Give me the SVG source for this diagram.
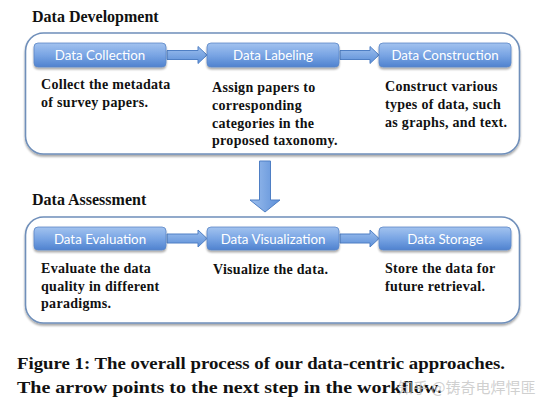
<svg xmlns="http://www.w3.org/2000/svg" width="546" height="412" viewBox="0 0 546 412">
<defs>
<linearGradient id="bg" x1="0" y1="0" x2="0" y2="1">
<stop offset="0" stop-color="#a3c3ef"/>
<stop offset="0.5" stop-color="#79a5e4"/>
<stop offset="1" stop-color="#4f82cf"/>
</linearGradient>
<linearGradient id="ag" x1="0" y1="0" x2="0" y2="1">
<stop offset="0" stop-color="#9dbfee"/>
<stop offset="1" stop-color="#5c8fd8"/>
</linearGradient>
<linearGradient id="agv" x1="0" y1="0" x2="1" y2="0">
<stop offset="0" stop-color="#9dbfee"/>
<stop offset="1" stop-color="#5c8fd8"/>
</linearGradient>
<filter id="sh" x="-10%" y="-10%" width="120%" height="130%">
<feGaussianBlur in="SourceAlpha" stdDeviation="1.2"/>
<feOffset dx="0" dy="1.5" result="b"/>
<feComponentTransfer><feFuncA type="linear" slope="0.35"/></feComponentTransfer>
<feMerge><feMergeNode/><feMergeNode in="SourceGraphic"/></feMerge>
</filter>
</defs>
<style>
.title{font-family:"Liberation Serif",serif;font-weight:bold;font-size:16px;fill:#111}
.body{font-family:"Liberation Serif",serif;font-weight:bold;font-size:14px;fill:#111;letter-spacing:0.3px}
.lbl{font-family:Lato,"Open Sans",sans-serif;font-size:13.3px;fill:#fff;text-anchor:middle}
.outer{fill:#fff;stroke:#6f8fba;stroke-width:1.6}
.step{fill:url(#bg);stroke:#5b86c6;stroke-width:0.8}
.arr{fill:url(#ag);stroke:#4f7fc4;stroke-width:1}
.cap{font-family:"Liberation Serif",serif;font-weight:bold;font-size:17px;fill:#111}
.wm{font-family:"Noto Sans CJK SC",sans-serif;font-size:15px;fill:#c4c4c4}
</style>
<rect width="546" height="412" fill="#fff"/>

<text class="title" x="32" y="22">Data Development</text>
<g id="dev-panel">
<rect class="outer" x="25.5" y="33" width="494" height="121" rx="18" filter="url(#sh)"/>
</g>

<text class="title" x="32" y="205">Data Assessment</text>
<g id="assess-panel">
<rect class="outer" x="25.5" y="217" width="494" height="106" rx="18" filter="url(#sh)"/>
</g>

<g id="connectors">
<path class="arr" d="M167,50.5 H198 V46.5 L207,55 L198,63.5 V59.5 H167 Z"/>
<path class="arr" d="M340,50.5 H370 V46.5 L379,55 L370,63.5 V59.5 H340 Z"/>
<path class="arr" d="M167,234 H198 V230 L207,238.5 L198,247 V243 H167 Z"/>
<path class="arr" d="M340,234 H370 V230 L379,238.5 L370,247 V243 H340 Z"/>
<path d="M259.5,161 H270.5 V200 H280 L265,212 L250,200 H259.5 Z" fill="url(#agv)" stroke="#4f7fc4" stroke-width="1"/>
</g>

<g id="data-collection">
<rect class="step" x="34" y="43" width="132" height="24" rx="4" filter="url(#sh)"/>
<text class="lbl" x="100" y="60">Data Collection</text>
<text class="body" x="41" y="89">Collect the metadata</text>
<text class="body" x="41" y="107">of survey papers.</text>
</g>

<g id="data-labeling">
<rect class="step" x="207" y="43" width="132" height="24" rx="4" filter="url(#sh)"/>
<text class="lbl" x="273" y="60">Data Labeling</text>
<text class="body" x="212" y="92">Assign papers to</text>
<text class="body" x="212" y="110">corresponding</text>
<text class="body" x="212" y="128">categories in the</text>
<text class="body" x="212" y="145">proposed taxonomy.</text>
</g>

<g id="data-construction">
<rect class="step" x="379" y="43" width="132" height="24" rx="4" filter="url(#sh)"/>
<text class="lbl" x="445" y="60">Data Construction</text>
<text class="body" x="385" y="91">Construct various</text>
<text class="body" x="385" y="109">types of data, such</text>
<text class="body" x="385" y="127">as graphs, and text.</text>
</g>

<g id="data-evaluation">
<rect class="step" x="34" y="227" width="132" height="23" rx="4" filter="url(#sh)"/>
<text class="lbl" x="100" y="243.5">Data Evaluation</text>
<text class="body" x="41" y="273">Evaluate the data</text>
<text class="body" x="41" y="291">quality in different</text>
<text class="body" x="41" y="308">paradigms.</text>
</g>

<g id="data-visualization">
<rect class="step" x="207" y="227" width="132" height="23" rx="4" filter="url(#sh)"/>
<text class="lbl" x="273" y="243.5">Data Visualization</text>
<text class="body" x="213" y="274">Visualize the data.</text>
</g>

<g id="data-storage">
<rect class="step" x="379" y="227" width="132" height="23" rx="4" filter="url(#sh)"/>
<text class="lbl" x="445" y="243.5">Data Storage</text>
<text class="body" x="385" y="273">Store the data for</text>
<text class="body" x="385" y="291">future retrieval.</text>
</g>

<text class="cap" x="17" y="369" textLength="488" lengthAdjust="spacingAndGlyphs">Figure 1: The overall process of our data-centric approaches.</text>
<text class="cap" x="17" y="393" textLength="425" lengthAdjust="spacingAndGlyphs">The arrow points to the next step in the workflow.</text>
<text class="wm" x="398" y="393" fill-opacity="0.8">知乎 @铸奇电焊悍匪</text>
</svg>
